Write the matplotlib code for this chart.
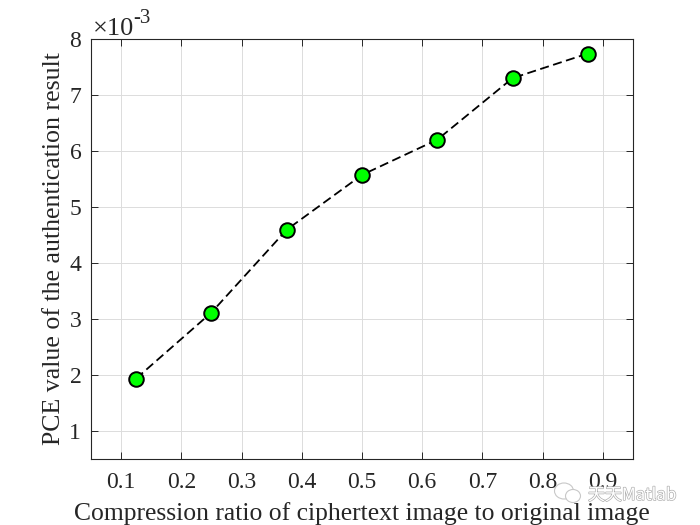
import matplotlib
matplotlib.use('Agg')
import matplotlib.pyplot as plt
import matplotlib.patheffects as pe
from matplotlib.patches import Ellipse

ratio = [0.125, 0.25, 0.375, 0.5, 0.625, 0.75, 0.875]
pce = [1.93e-3, 3.11e-3, 4.59e-3, 5.57e-3, 6.2e-3, 7.3e-3, 7.74e-3]
xticks = [0.1, 0.2, 0.3, 0.4, 0.5, 0.6, 0.7, 0.8, 0.9]
yticks = [1, 2, 3, 4, 5, 6, 7, 8]

plt.rcParams['font.family'] = 'Liberation Serif'

fig = plt.figure(figsize=(7, 5.25), dpi=100)
ax = fig.add_axes([91 / 700, 1 - 458.5 / 525, (633 - 91) / 700, (458.5 - 39) / 525])

ax.plot(ratio, pce, color='k', linewidth=1.3, dashes=(5, 2.5), marker='o', markersize=10.5,
        markerfacecolor='#00ff00', markeredgecolor='k', markeredgewidth=1.4, zorder=3)

ax.set_xlim(0.05, 0.95)
ax.set_ylim(0.5e-3, 8e-3)
ax.set_xticks(xticks)
ax.set_xticklabels([str(t) for t in xticks])
ax.set_yticks([t * 1e-3 for t in yticks])
ax.set_yticklabels([str(t) for t in yticks])
ax.tick_params(direction='in', top=True, right=True, labelsize=17, length=5, width=0.7, colors='#262626')
ax.tick_params(axis='x', pad=10)
ax.tick_params(axis='y', pad=7)
ax.grid(True, color='#dcdcdc', linewidth=0.7)
ax.set_axisbelow(True)
for s in ax.spines.values():
    s.set_linewidth(0.8)
    s.set_color('#262626')

ax.set_xlabel('Compression ratio of ciphertext image to original image', fontsize=18.45, color='#262626', labelpad=6)
ax.set_ylabel('PCE value of the authentication result', fontsize=18.6, color='#262626', labelpad=3)
fig.text(93 / 700, 1 - 35 / 525, '\u00d710', fontsize=19, color='#262626')
fig.text(133 / 700, 1 - 23 / 525, '-3', fontsize=15, color='#262626')

# watermark
for cx, cy, w, h in [(564, 491, 19, 16), (573, 496, 15, 13)]:
    fig.add_artist(Ellipse((cx / 700, 1 - cy / 525), w / 700, h / 525, transform=fig.transFigure,
                           facecolor='white', edgecolor='#c8c8c8', linewidth=0.8))
halo = [pe.withStroke(linewidth=1.0, foreground='#b0b0b0')]
fig.text(588 / 700, 1 - 500 / 525, '天天Matlab', fontsize=12.2, color='white',
         family=['Noto Sans CJK SC', 'DejaVu Sans'], path_effects=halo)

fig.savefig('out.png', dpi=100)
